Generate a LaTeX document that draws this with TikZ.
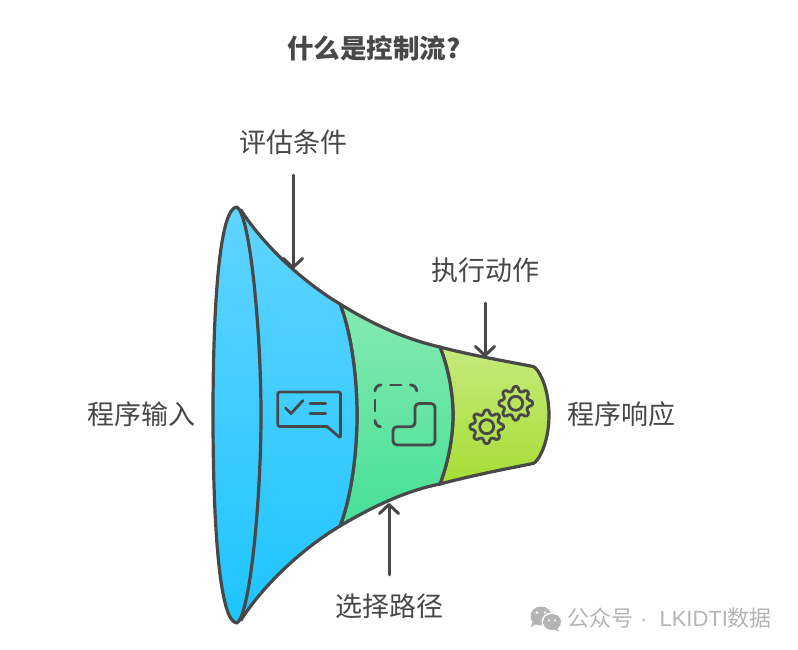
\documentclass[tikz,border=0pt]{standalone}
\usepackage{fontspec}
\setmainfont{Noto Sans CJK SC}
\newfontfamily\latinfont{Liberation Sans}
\usetikzlibrary{arrows.meta}
\definecolor{ink}{HTML}{484848}
\definecolor{wm}{HTML}{B4B4B4}
\tikzset{
  lbl/.style={text=ink,font=\fontsize{27}{30}\selectfont,inner sep=0pt},
  edge/.style={draw=ink,line width=3.2pt,line join=round,line cap=round},
  icon/.style={draw=ink,line width=2.8pt,line join=round,line cap=round},
  arr/.style={draw=ink,line width=3pt,line cap=round,-{Straight Barb[length=9pt,width=19pt,line width=3pt,round]}},
  bluefill/.style={top color=blueT,bottom color=blueB},
  greenfill/.style={top color=greenT,bottom color=greenB},
  limefill/.style={top color=limeT,bottom color=limeB},
}
\definecolor{blueT}{HTML}{60D4FF}
\definecolor{blueB}{HTML}{1EC4FF}
\definecolor{greenT}{HTML}{85E9B2}
\definecolor{greenB}{HTML}{45E096}
\definecolor{limeT}{HTML}{C6E97B}
\definecolor{limeB}{HTML}{A7DD35}
\newcommand{\gearicon}[2]{%
  \begin{scope}[shift={(#1,#2)}]
    \draw[icon,rounded corners=1.6pt] (-13:12.6)
      \foreach \a in {0,45,...,315}{ -- (\a-13:12.6) -- (\a-9:17) -- (\a+9:17) -- (\a+13:12.6)} -- cycle;
    \draw[icon] (0,0) circle (7pt);
  \end{scope}}
\begin{document}
\begin{tikzpicture}[x=1pt,y=-1pt]
\useasboundingbox[fill=white] (0,0) rectangle (798,649);
% funnel key points
\coordinate (tip) at (237,207);
\coordinate (bot) at (237,623);
\coordinate (t0) at (241,210);
\coordinate (b0) at (241,620);
\coordinate (t1) at (340,304);
\coordinate (b1) at (340,526);
\coordinate (t2) at (440,347);
\coordinate (b2) at (440,484);
\coordinate (t3) at (533,366.5);
\coordinate (b3) at (533,463.5);
% lime section
\path[edge,limefill] (t2) .. controls (470,355) and (505,361) .. (t3)
  .. controls (537,367) and (549,385) .. (549,415)
  .. controls (549,445) and (537,463) .. (b3)
  .. controls (505,469) and (470,476) .. (b2)
  .. controls (449,460) and (453,435) .. (453,415)
  .. controls (453,395) and (449,370) .. (t2) -- cycle;
% green section
\path[edge,greenfill] (t1) .. controls (372,324) and (405,339) .. (t2)
  .. controls (449,370) and (453,395) .. (453,415)
  .. controls (453,435) and (449,460) .. (b2)
  .. controls (405,491) and (372,507) .. (b1)
  .. controls (352,495) and (357,450) .. (357,415)
  .. controls (357,380) and (352,335) .. (t1) -- cycle;
% blue section
\path[edge,bluefill] (t0) .. controls (262,243) and (300,280) .. (t1)
  .. controls (352,335) and (357,380) .. (357,415)
  .. controls (357,450) and (352,495) .. (b1)
  .. controls (300,550) and (262,587) .. (b0)
  -- (237,415) -- cycle;
% mouth ellipse
\path[edge,bluefill] (tip) .. controls (220,207) and (213,300) .. (213,415)
  .. controls (213,530) and (220,623) .. (bot)
  .. controls (250,615) and (261,500) .. (261,415)
  .. controls (261,330) and (250,215) .. (tip) -- cycle;
% icon: checklist bubble
\draw[icon,rounded corners=2pt] (277.7,392) -- (340.5,392) -- (340.5,438) [sharp corners] -- (327,426.5) [rounded corners=2pt] -- (277.7,426.5) -- cycle;
\draw[icon] (285.5,408) -- (291,413.5) -- (303,400.5);
\draw[icon] (310,403.3) -- (325.7,403.3);
\draw[icon] (310,413.5) -- (325.7,413.5);
% icon: dashed square and solid corner
\draw[icon] (375,391) .. controls (375,387.7) and (377.7,385) .. (381,385);
\draw[icon] (390.5,385) -- (401,385);
\draw[icon] (410.5,385) .. controls (414,385) and (416.7,387.7) .. (416.7,391);
\draw[icon] (375,400) -- (375,411);
\draw[icon] (375,420.5) .. controls (375,424) and (377.7,426.7) .. (380.5,426.7);
\draw[icon,rounded corners=4pt] (393,426.7) -- (415,426.7) -- (415,403.5) -- (435,403.5) -- (435,445) -- (393,445) -- cycle;
% icon: gears
\gearicon{486.7}{426.7}
\gearicon{515.7}{403.3}
% labels
\node[lbl,font=\fontsize{26.5}{30}\selectfont\bfseries] (title) at (374,48) {什么是控制流?};
\node[lbl,minimum height=66pt] (eval) at (293,142) {评估条件};
\node[lbl,minimum height=66pt] (act) at (485,270) {执行动作};
\node[lbl,minimum height=62pt] (path) at (389,606) {选择路径};
\node[lbl] (in) at (141,414) {程序输入};
\node[lbl] (out) at (621,414) {程序响应};
% arrow targets
\coordinate (evalT) at (293,269);
\coordinate (actT) at (485,357);
\coordinate (pathT) at (389,503);
\draw[arr] (eval) -- (evalT);
\draw[arr] (act) -- (actT);
\draw[arr] (path) -- (pathT);
% watermark
\fill[wm] (541,616) ellipse (10.5pt and 9.5pt);
\fill[wm] (533,621) -- (531,627) -- (538,623) -- cycle;
\fill[white] (552,622) ellipse (10.5pt and 9.5pt);
\fill[wm] (552,622) ellipse (9pt and 8pt);
\fill[wm] (557,628) -- (559,631.5) -- (553,629) -- cycle;
\fill[white] (537,612.5) circle (1.5pt) (545,612.5) circle (1.5pt) (549,620.5) circle (1.2pt) (555,620.5) circle (1.2pt);
\node[text=wm,font=\fontsize{22}{25}\selectfont,inner sep=0pt,anchor=west] (mark) at (567,618) {公众号\kern7pt{\latinfont ·}\kern12pt{\latinfont LKIDTI}数据};
\end{tikzpicture}
\end{document}
